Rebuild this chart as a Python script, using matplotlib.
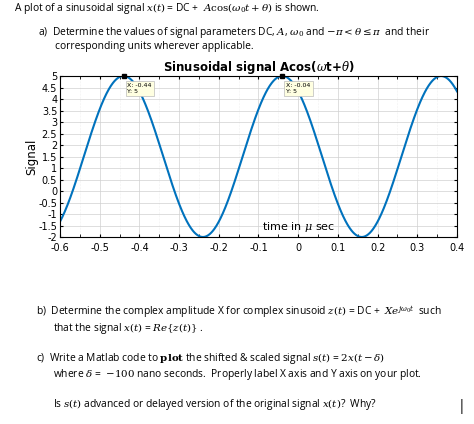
import matplotlib.pyplot as plt
import numpy as np

# signal parameters
dc = 1.5
amp = 3.5
freq_mhz = 2.5
theta = 0.2 * np.pi
t_range = [-0.6, 0.4]
x_ticks = [-0.6, -0.5, -0.4, -0.3, -0.2, -0.1, 0, 0.1, 0.2, 0.3, 0.4]
y_ticks = [-2, -1.5, -1, -0.5, 0, 0.5, 1, 1.5, 2, 2.5, 3, 3.5, 4, 4.5, 5]
tip_x = [-0.44, -0.04]
tip_y = [5, 5]

plt.rcParams['mathtext.fontset'] = 'dejavuserif'
fig = plt.figure(figsize=(4.74, 4.24), dpi=100)
W, H = 474, 424

def txt(x, y, s, size=7.4, **kw):
    fig.text(x / W, 1 - y / H, s, fontsize=size, family='Open Sans', va='center', **kw)

txt(14, 9, r'A plot of a sinusoidal signal $x(t)$ = DC +  $A\cos(\omega_0 t+\theta)$ is shown.')
txt(38, 32, r'a)  Determine the values of signal parameters DC, $A$, $\omega_0$ and $-\pi<\theta\leq\pi$  and their')
txt(55, 46, 'corresponding units wherever applicable.')
txt(36, 313, r'b)  Determine the complex amplitude X for complex sinusoid $z(t)$ = DC +  $Xe^{j\omega_0 t}$  such')
txt(53, 329, r'that the signal $x(t)$ = $Re\{z(t)\}$ .')
txt(36, 359, r'c)  Write a Matlab code to $\bf{plot}$ the shifted & scaled signal $s(t)$ = $2x(t-\delta)$')
txt(53, 375, r'where $\delta$ =  $-100$ nano seconds.  Properly label X axis and Y axis on your plot.')
txt(53, 405, r'Is $s(t)$ advanced or delayed version of the original signal $x(t)$?  Why?')
txt(458, 407, '|', size=10)

ax = fig.add_axes([60 / W, 1 - 237 / H, 397 / W, 161 / H])
t = np.linspace(t_range[0], t_range[1], 1000)
ax.plot(t, dc + amp * np.cos(2 * np.pi * freq_mhz * t + theta), color='#0072BD', lw=1.5)
ax.set_xlim(t_range)
ax.set_ylim(-2, 5)
ax.set_xticks(x_ticks)
ax.set_xticklabels([f'{v:g}' for v in x_ticks])
ax.set_yticks(y_ticks)
ax.set_yticklabels([f'{v:g}' for v in y_ticks])
ax.set_xticks(np.arange(-0.6, 0.41, 0.05), minor=True)
ax.set_yticks([], minor=True)
ax.grid(True, which='major', color='#d0d0d0', lw=0.5)
ax.grid(True, which='minor', color='#e4e4e4', lw=0.4, ls=':')
ax.tick_params(labelsize=7, length=2, direction='in', which='both', top=True, right=True, pad=2)
ax.tick_params(axis='x', pad=4)
ax.set_title(r'Sinusoidal signal Acos($\omega$t+$\theta$)', fontsize=8.5, fontweight='bold', pad=1)
ax.set_ylabel('Signal', fontsize=8.5, labelpad=0)
ax.text(0.0, -1.55, r'time in $\mu$ sec', fontsize=8, ha='center', va='center')
for x, y in zip(tip_x, tip_y):
    ax.plot(x, y, 's', color='black', ms=3.5, clip_on=False)
    ax.text(x + 0.01, y - 0.3, f'X: {x:g}\nY: {y:g}', fontsize=4.5, va='top',
            bbox=dict(boxstyle='square,pad=0.3', fc='#ffffe1', ec='#bbbbbb', lw=0.5))

fig.savefig('out.png', dpi=100)
